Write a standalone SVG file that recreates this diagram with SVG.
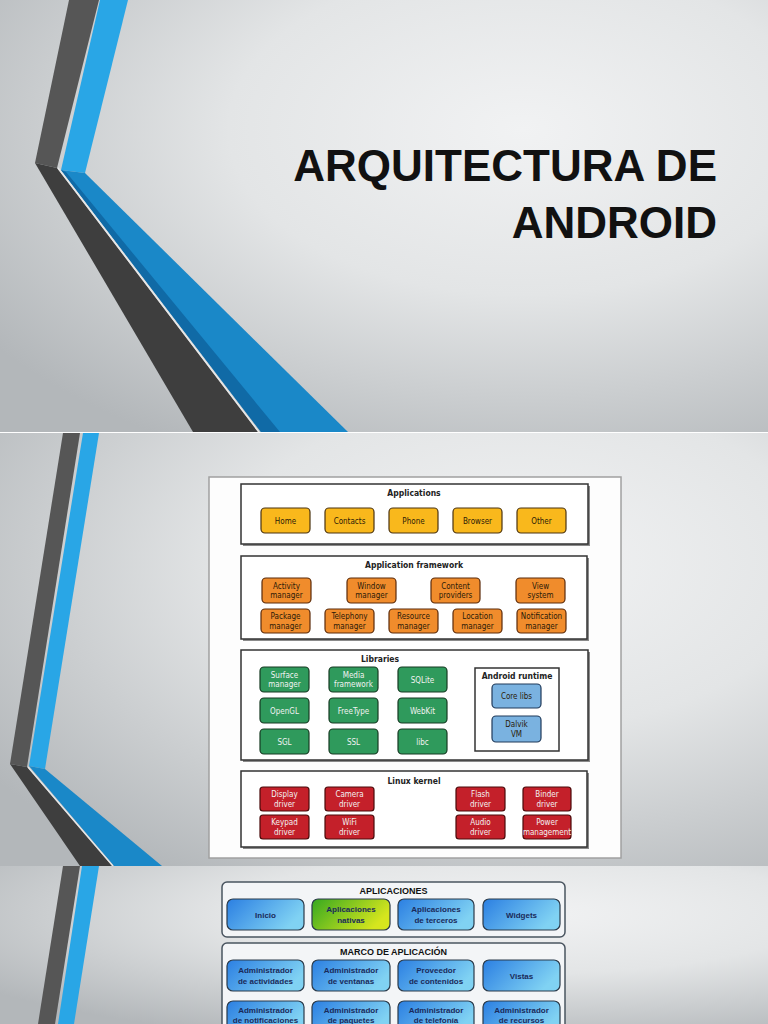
<svg xmlns="http://www.w3.org/2000/svg" width="768" height="1024" viewBox="0 0 768 1024">
<defs>
  <radialGradient id="bg" cx="0.68" cy="0.3" r="0.85">
    <stop offset="0" stop-color="#f1f2f3"/>
    <stop offset="0.45" stop-color="#e3e5e6"/>
    <stop offset="1" stop-color="#b3b7ba"/>
  </radialGradient>
  <linearGradient id="blueBtn" x1="0" y1="0" x2="1" y2="0.4">
    <stop offset="0" stop-color="#2b7fe2"/>
    <stop offset="1" stop-color="#80d2f3"/>
  </linearGradient>
  <linearGradient id="greenBtn" x1="0" y1="0" x2="1" y2="0.4">
    <stop offset="0" stop-color="#36a820"/>
    <stop offset="1" stop-color="#d6e61e"/>
  </linearGradient>
  <style>
    .title{font-family:"Liberation Sans",Arial,sans-serif;font-weight:bold;font-size:44px;fill:#111;text-anchor:end}
    .layer{fill:#fff;stroke:#333;stroke-width:1.5}
    .shadow{fill:#8a8a8a}
    .lt{font-family:"DejaVu Sans Condensed","DejaVu Sans",sans-serif;font-stretch:condensed;font-weight:bold;font-size:8.5px;fill:#222;text-anchor:middle}
    .bt{font-family:"DejaVu Sans Condensed","DejaVu Sans",sans-serif;font-stretch:condensed;font-size:8px;text-anchor:middle}
    .yel{fill:#f9b81c;stroke:#4a3210;stroke-width:1.2}
    .ora{fill:#f08c2c;stroke:#5a2a0a;stroke-width:1.2}
    .grn{fill:#2f9a5c;stroke:#163a22;stroke-width:1.2}
    .red{fill:#c4202a;stroke:#4a0a0a;stroke-width:1.2}
    .lbl{fill:#7ab2e0;stroke:#203a5a;stroke-width:1.2}
    .dk{fill:#2a1a08}
    .wt{fill:#f2f2f2}
    .s3box{fill:#f3f5f7;stroke:#4a5560;stroke-width:1.5}
    .s3t{font-family:"Liberation Sans",Arial,sans-serif;font-weight:bold;font-size:9px;fill:#111;text-anchor:middle}
    .s3b{stroke:#2a3a4a;stroke-width:1.2}
    .s3l{font-family:"Liberation Sans",Arial,sans-serif;font-weight:bold;font-size:8px;fill:#1a2a5a;text-anchor:middle}
  </style>
</defs>

<!-- Slide 1 -->
<g id="slide1">
  <rect x="0" y="0" width="768" height="432" fill="url(#bg)"/>
  <polygon points="69,0 99,0 57,168 35,163" fill="#565656"/>
  <polygon points="100,0 128,0 85,173 61,170" fill="#29a6e6"/>
  <polygon points="35,163 57,168 258,432 193,432" fill="#3e3e3e"/>
  <polygon points="61,170 85,173 348,432 261,432" fill="#1a88c8"/>
  <polygon points="61,170 66,172 280,432 261,432" fill="#106aa6"/>
  <line x1="58" y1="168" x2="259" y2="432" stroke="#e8e8e8" stroke-width="1.5"/>
  <text class="title" x="717" y="181">ARQUITECTURA DE</text>
  <text class="title" x="717" y="238">ANDROID</text>
</g>

<!-- Slide 2 -->
<g id="slide2">
  <rect x="0" y="433" width="768" height="433" fill="url(#bg)"/>
  <polygon points="63,433 80,433 27,767 10,764" fill="#565656"/>
  <polygon points="83,433 99,433 45,769 29,766" fill="#29a6e6"/>
  <polygon points="10,764 27,767 112,866 80,866" fill="#3e3e3e"/>
  <polygon points="29,766 45,769 162,866 114,866" fill="#1a88c8"/>
  <line x1="28" y1="767" x2="113" y2="866" stroke="#e8e8e8" stroke-width="1.2"/>

  <rect x="209" y="477" width="412" height="381" fill="#fdfdfd" stroke="#a0a0a0" stroke-width="1.5"/>

  <g id="applications">
    <rect class="shadow" x="243" y="486" width="347" height="60"/>
    <rect class="layer" x="241" y="484" width="347" height="60"/>
    <text class="lt" x="414" y="496">Applications</text>
    <g id="home"><rect class="yel" x="261" y="508" width="49" height="25" rx="4"/><text class="bt dk" x="285.5" y="523.5">Home</text></g>
    <g id="contacts"><rect class="yel" x="325" y="508" width="49" height="25" rx="4"/><text class="bt dk" x="349.5" y="523.5">Contacts</text></g>
    <g id="phone"><rect class="yel" x="389" y="508" width="49" height="25" rx="4"/><text class="bt dk" x="413.5" y="523.5">Phone</text></g>
    <g id="browser"><rect class="yel" x="453" y="508" width="49" height="25" rx="4"/><text class="bt dk" x="477.5" y="523.5">Browser</text></g>
    <g id="other"><rect class="yel" x="517" y="508" width="49" height="25" rx="4"/><text class="bt dk" x="541.5" y="523.5">Other</text></g>
  </g>

  <g id="framework">
    <rect class="shadow" x="243" y="558" width="346" height="83"/>
    <rect class="layer" x="241" y="556" width="346" height="83"/>
    <text class="lt" x="414" y="568">Application framework</text>
    <g id="activity"><rect class="ora" x="262" y="578" width="49" height="25" rx="4"/><text class="bt dk" x="286.5" y="588.5">Activity</text><text class="bt dk" x="286.5" y="598">manager</text></g>
    <g id="window"><rect class="ora" x="347" y="578" width="49" height="25" rx="4"/><text class="bt dk" x="371.5" y="588.5">Window</text><text class="bt dk" x="371.5" y="598">manager</text></g>
    <g id="content"><rect class="ora" x="431" y="578" width="49" height="25" rx="4"/><text class="bt dk" x="455.5" y="588.5">Content</text><text class="bt dk" x="455.5" y="598">providers</text></g>
    <g id="view"><rect class="ora" x="516" y="578" width="49" height="25" rx="4"/><text class="bt dk" x="540.5" y="588.5">View</text><text class="bt dk" x="540.5" y="598">system</text></g>
    <g id="package"><rect class="ora" x="261" y="609" width="49" height="24" rx="4"/><text class="bt dk" x="285.5" y="619">Package</text><text class="bt dk" x="285.5" y="628.5">manager</text></g>
    <g id="telephony"><rect class="ora" x="325" y="609" width="49" height="24" rx="4"/><text class="bt dk" x="349.5" y="619">Telephony</text><text class="bt dk" x="349.5" y="628.5">manager</text></g>
    <g id="resource"><rect class="ora" x="389" y="609" width="49" height="24" rx="4"/><text class="bt dk" x="413.5" y="619">Resource</text><text class="bt dk" x="413.5" y="628.5">manager</text></g>
    <g id="location"><rect class="ora" x="453" y="609" width="49" height="24" rx="4"/><text class="bt dk" x="477.5" y="619">Location</text><text class="bt dk" x="477.5" y="628.5">manager</text></g>
    <g id="notification"><rect class="ora" x="517" y="609" width="49" height="24" rx="4"/><text class="bt dk" x="541.5" y="619">Notification</text><text class="bt dk" x="541.5" y="628.5">manager</text></g>
  </g>

  <g id="libraries">
    <rect class="shadow" x="243" y="652" width="347" height="110"/>
    <rect class="layer" x="241" y="650" width="347" height="110"/>
    <text class="lt" x="380" y="662">Libraries</text>
    <g id="surface"><rect class="grn" x="260" y="667" width="49" height="25" rx="4"/><text class="bt wt" x="284.5" y="677.5">Surface</text><text class="bt wt" x="284.5" y="687">manager</text></g>
    <g id="media"><rect class="grn" x="329" y="667" width="49" height="25" rx="4"/><text class="bt wt" x="353.5" y="677.5">Media</text><text class="bt wt" x="353.5" y="687">framework</text></g>
    <g id="sqlite"><rect class="grn" x="398" y="667" width="49" height="25" rx="4"/><text class="bt wt" x="422.5" y="682.5">SQLite</text></g>
    <g id="opengl"><rect class="grn" x="260" y="698" width="49" height="25" rx="4"/><text class="bt wt" x="284.5" y="713.5">OpenGL</text></g>
    <g id="freetype"><rect class="grn" x="329" y="698" width="49" height="25" rx="4"/><text class="bt wt" x="353.5" y="713.5">FreeType</text></g>
    <g id="webkit"><rect class="grn" x="398" y="698" width="49" height="25" rx="4"/><text class="bt wt" x="422.5" y="713.5">WebKit</text></g>
    <g id="sgl"><rect class="grn" x="260" y="729" width="49" height="25" rx="4"/><text class="bt wt" x="284.5" y="744.5">SGL</text></g>
    <g id="ssl"><rect class="grn" x="329" y="729" width="49" height="25" rx="4"/><text class="bt wt" x="353.5" y="744.5">SSL</text></g>
    <g id="libc"><rect class="grn" x="398" y="729" width="49" height="25" rx="4"/><text class="bt wt" x="422.5" y="744.5">libc</text></g>
    <g id="runtime">
      <rect class="layer" x="475" y="668" width="84" height="83"/>
      <text class="lt" x="517" y="679">Android runtime</text>
      <g id="corelibs"><rect class="lbl" x="492" y="684" width="49" height="24" rx="4"/><text class="bt dk" x="516.5" y="699">Core libs</text></g>
      <g id="dalvik"><rect class="lbl" x="492" y="716" width="49" height="26" rx="4"/><text class="bt dk" x="516.5" y="727">Dalvik</text><text class="bt dk" x="516.5" y="736.5">VM</text></g>
    </g>
  </g>

  <g id="kernel">
    <rect class="shadow" x="243" y="773" width="346" height="76"/>
    <rect class="layer" x="241" y="771" width="346" height="76"/>
    <text class="lt" x="414" y="784">Linux kernel</text>
    <g id="display"><rect class="red" x="260" y="787" width="49" height="24" rx="3"/><text class="bt wt" x="284.5" y="797">Display</text><text class="bt wt" x="284.5" y="806.5">driver</text></g>
    <g id="camera"><rect class="red" x="325" y="787" width="49" height="24" rx="3"/><text class="bt wt" x="349.5" y="797">Camera</text><text class="bt wt" x="349.5" y="806.5">driver</text></g>
    <g id="flash"><rect class="red" x="456" y="787" width="49" height="24" rx="3"/><text class="bt wt" x="480.5" y="797">Flash</text><text class="bt wt" x="480.5" y="806.5">driver</text></g>
    <g id="binder"><rect class="red" x="523" y="787" width="48" height="24" rx="3"/><text class="bt wt" x="547" y="797">Binder</text><text class="bt wt" x="547" y="806.5">driver</text></g>
    <g id="keypad"><rect class="red" x="260" y="815" width="49" height="24" rx="3"/><text class="bt wt" x="284.5" y="825">Keypad</text><text class="bt wt" x="284.5" y="834.5">driver</text></g>
    <g id="wifi"><rect class="red" x="325" y="815" width="49" height="24" rx="3"/><text class="bt wt" x="349.5" y="825">WiFi</text><text class="bt wt" x="349.5" y="834.5">driver</text></g>
    <g id="audio"><rect class="red" x="456" y="815" width="49" height="24" rx="3"/><text class="bt wt" x="480.5" y="825">Audio</text><text class="bt wt" x="480.5" y="834.5">driver</text></g>
    <g id="power"><rect class="red" x="523" y="815" width="48" height="24" rx="3"/><text class="bt wt" x="547" y="825">Power</text><text class="bt wt" x="547" y="834.5">management</text></g>
  </g>
</g>

<!-- Slide 3 -->
<g id="slide3">
  <rect x="0" y="866" width="768" height="158" fill="url(#bg)"/>
  <polygon points="63,866 80,866 55,1024 38,1024" fill="#565656"/>
  <polygon points="82,866 99,866 74,1024 58,1024" fill="#29a6e6"/>

  <g id="aplicaciones">
    <rect class="s3box" x="222" y="882" width="343" height="55" rx="5"/>
    <text class="s3t" x="393.5" y="894">APLICACIONES</text>
    <g id="inicio"><rect class="s3b" fill="url(#blueBtn)" x="227" y="899" width="77" height="31" rx="6"/><text class="s3l" x="265.5" y="917.5">Inicio</text></g>
    <g id="nativas"><rect class="s3b" fill="url(#greenBtn)" x="312" y="899" width="78" height="31" rx="6"/><text class="s3l" x="351" y="912">Aplicaciones</text><text class="s3l" x="351" y="923">nativas</text></g>
    <g id="terceros"><rect class="s3b" fill="url(#blueBtn)" x="398" y="899" width="76" height="31" rx="6"/><text class="s3l" x="436" y="912">Aplicaciones</text><text class="s3l" x="436" y="923">de terceros</text></g>
    <g id="widgets"><rect class="s3b" fill="url(#blueBtn)" x="483" y="899" width="77" height="31" rx="6"/><text class="s3l" x="521.5" y="917.5">Widgets</text></g>
  </g>

  <g id="marco">
    <rect class="s3box" x="222" y="943" width="343" height="120" rx="5"/>
    <text class="s3t" x="393.5" y="955">MARCO DE APLICACIÓN</text>
    <g id="actividades"><rect class="s3b" fill="url(#blueBtn)" x="227" y="960" width="77" height="31" rx="6"/><text class="s3l" x="265.5" y="973">Administrador</text><text class="s3l" x="265.5" y="984">de actividades</text></g>
    <g id="ventanas"><rect class="s3b" fill="url(#blueBtn)" x="312" y="960" width="78" height="31" rx="6"/><text class="s3l" x="351" y="973">Administrador</text><text class="s3l" x="351" y="984">de ventanas</text></g>
    <g id="contenidos"><rect class="s3b" fill="url(#blueBtn)" x="398" y="960" width="76" height="31" rx="6"/><text class="s3l" x="436" y="973">Proveedor</text><text class="s3l" x="436" y="984">de contenidos</text></g>
    <g id="vistas"><rect class="s3b" fill="url(#blueBtn)" x="483" y="960" width="77" height="31" rx="6"/><text class="s3l" x="521.5" y="978.5">Vistas</text></g>
    <g id="notificaciones"><rect class="s3b" fill="url(#blueBtn)" x="227" y="1001" width="77" height="31" rx="6"/><text class="s3l" x="265.5" y="1013">Administrador</text><text class="s3l" x="265.5" y="1023">de notificaciones</text></g>
    <g id="paquetes"><rect class="s3b" fill="url(#blueBtn)" x="312" y="1001" width="78" height="31" rx="6"/><text class="s3l" x="351" y="1013">Administrador</text><text class="s3l" x="351" y="1023">de paquetes</text></g>
    <g id="telefonia"><rect class="s3b" fill="url(#blueBtn)" x="398" y="1001" width="76" height="31" rx="6"/><text class="s3l" x="436" y="1013">Administrador</text><text class="s3l" x="436" y="1023">de telefonía</text></g>
    <g id="recursos"><rect class="s3b" fill="url(#blueBtn)" x="483" y="1001" width="77" height="31" rx="6"/><text class="s3l" x="521.5" y="1013">Administrador</text><text class="s3l" x="521.5" y="1023">de recursos</text></g>
  </g>
</g>

<g id="connectors"/>
</svg>
